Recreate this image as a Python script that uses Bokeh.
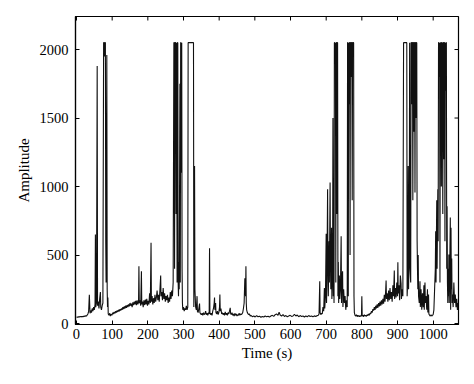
import math
from bokeh.plotting import figure
from bokeh.models import Range1d, FixedTicker
from bokeh.embed import file_html
from bokeh.resources import INLINE

# ---- data ----
t_seg1 = [0, 2, 4, 6, 8, 10, 12, 14, 16, 18, 20, 22, 24, 26, 28, 30, 32, 34, 36, 38, 40, 42, 44, 46, 48, 50, 52, 53, 54, 56, 58, 59, 61, 63, 65, 67, 68, 70, 72, 74, 76, 77, 78, 79, 80, 81, 82, 83, 85, 86, 87, 88, 89, 91, 93, 95, 97, 99]
a_seg1 = [45, 48, 46, 50, 47, 52, 49, 51, 48, 53, 50, 55, 52, 58, 54, 62, 70, 88, 210, 75, 95, 80, 110, 90, 120, 100, 140, 650, 120, 150, 1880, 130, 160, 110, 180, 230, 120, 100, 130, 150, 2050, 2050, 1950, 2050, 2050, 2050, 600, 300, 1960, 250, 120, 190, 70, 60, 75, 55, 70, 60]

t_seg2 = [100, 102, 104, 106, 108, 110, 112, 114, 116, 118, 120, 122, 124, 126, 128, 130, 132, 134, 136, 138, 140, 142, 144, 146, 148, 150, 152, 154, 156, 158, 160, 162, 164, 166, 168, 170, 172, 174, 175, 176, 178, 180, 182, 183, 185, 187, 189, 191, 193, 195, 197, 199, 201, 203, 205, 207, 209, 210, 212, 214, 216, 218, 220, 222, 224, 226, 228, 230, 232, 234, 236, 237, 239, 241, 243, 245, 247, 249, 251, 253, 255, 257, 259, 261, 263, 265, 267, 269, 271]
a_seg2 = [65, 80, 70, 85, 75, 90, 80, 95, 85, 100, 90, 105, 95, 110, 100, 120, 105, 125, 110, 130, 115, 135, 120, 140, 125, 150, 130, 145, 120, 155, 135, 160, 140, 165, 135, 170, 140, 160, 418, 150, 170, 130, 382, 140, 160, 120, 170, 135, 175, 140, 180, 130, 165, 140, 220, 150, 590, 160, 200, 140, 185, 150, 210, 160, 190, 240, 170, 210, 160, 250, 350, 200, 230, 170, 260, 180, 220, 160, 200, 170, 210, 150, 190, 160, 230, 180, 240, 200, 300]

t_seg3 = [273, 274, 275, 276, 277, 278, 279, 280, 281, 282, 283, 284, 285, 286, 287, 288, 290, 291, 292, 293, 294, 295, 296, 297, 298, 300, 302, 304, 306, 308, 310, 312, 313, 320, 328, 329, 331, 332, 334, 336, 338, 339, 341, 343, 345, 346, 348]
a_seg3 = [2050, 2050, 400, 2050, 2050, 2050, 800, 2050, 1650, 300, 2050, 2050, 300, 200, 450, 250, 1750, 300, 2050, 2050, 1100, 2050, 400, 150, 100, 120, 90, 110, 100, 130, 100, 120, 2050, 2050, 2050, 120, 1150, 250, 120, 100, 200, 90, 80, 110, 146, 80, 70]

t_seg4 = [350, 352, 354, 356, 358, 360, 362, 364, 366, 368, 370, 372, 373, 374, 376, 378, 380, 382, 384, 386, 387, 388, 390, 391, 393, 395, 397, 399, 401, 402, 403, 405, 407, 409, 411, 413, 415, 417, 419, 421, 423, 425, 427, 429, 431, 432, 434, 436, 438, 440, 442, 444, 446, 448, 450, 452, 454, 456, 458, 460, 462, 464, 466, 468, 470, 472, 474, 475, 476, 477, 479, 481, 483, 485, 487]
a_seg4 = [65, 75, 60, 80, 65, 70, 90, 65, 75, 60, 80, 70, 550, 80, 65, 75, 60, 90, 110, 150, 190, 100, 150, 80, 70, 90, 65, 80, 120, 212, 90, 110, 70, 80, 65, 75, 60, 85, 65, 75, 60, 80, 70, 90, 115, 75, 65, 80, 60, 70, 55, 75, 60, 70, 55, 65, 60, 75, 60, 70, 65, 70, 80, 110, 150, 330, 200, 418, 150, 100, 80, 70, 65, 70, 55]

t_seg5 = [489, 493, 497, 501, 505, 509, 513, 517, 521, 525, 529, 533, 537, 541, 545, 549, 553, 557, 561, 565, 568, 571, 575, 579, 583, 587, 591, 595, 599, 603, 607, 611, 615, 619, 623, 627, 631, 635, 639, 643, 647, 651, 655, 659, 663, 667, 671, 675, 678, 680, 682, 683, 685, 687, 689, 691, 693, 695, 696, 698]
a_seg5 = [60, 50, 55, 48, 58, 50, 54, 46, 52, 48, 55, 50, 53, 47, 55, 60, 52, 65, 70, 60, 83, 62, 55, 65, 52, 58, 50, 55, 60, 52, 55, 68, 55, 62, 50, 58, 52, 55, 48, 55, 50, 58, 52, 55, 50, 56, 52, 58, 60, 70, 309, 80, 65, 75, 70, 120, 90, 260, 110, 200]

t_seg6 = [700, 701, 702, 704, 705, 706, 708, 709, 711, 712, 713, 715, 716, 718, 719, 720, 721, 722, 723, 724, 725, 726, 727, 728, 729, 730, 731, 732, 733, 734, 735, 737, 738, 740, 742, 743, 744, 746, 747, 749, 751, 753, 755, 757, 759, 760, 761, 762, 763, 764, 765, 766, 767, 768, 769, 770, 771, 772, 773, 774, 775, 776, 777, 778, 779]
a_seg6 = [655, 150, 300, 980, 400, 200, 600, 300, 1030, 450, 250, 700, 180, 400, 1500, 200, 500, 150, 2050, 2050, 1900, 2050, 300, 2050, 2050, 800, 2050, 2050, 200, 450, 150, 350, 180, 250, 637, 150, 300, 382, 120, 250, 150, 200, 100, 170, 120, 2050, 2050, 200, 2050, 1600, 2050, 2050, 500, 2050, 2050, 1800, 2050, 2050, 900, 2050, 2050, 2050, 2050, 200, 80]

t_seg7 = [781, 783, 785, 787, 789, 791, 793, 795, 797, 799, 800, 801, 803, 805, 807, 809, 811, 813, 815, 817, 819, 821, 823, 825, 827, 829, 831, 833, 835, 837, 839, 841, 843, 845, 847, 849, 851, 853, 855, 857, 859, 861, 863, 865, 867, 868, 869, 871, 873, 875, 877, 879, 881, 883, 885, 887, 889, 891, 892, 894, 896, 898, 900, 901, 902, 904, 906, 908, 910, 911, 913, 915]
a_seg7 = [60, 55, 65, 50, 60, 55, 50, 58, 52, 60, 200, 55, 60, 50, 65, 55, 60, 52, 65, 58, 70, 60, 75, 70, 90, 80, 105, 95, 120, 100, 130, 110, 140, 115, 150, 125, 160, 130, 170, 140, 180, 145, 210, 160, 250, 314, 180, 220, 160, 240, 170, 260, 180, 230, 160, 280, 200, 387, 180, 260, 190, 300, 200, 448, 220, 280, 170, 350, 292, 180, 250, 200]

t_seg8 = [917, 922, 926, 927, 929, 930, 931, 933, 934, 935, 937, 938, 939, 940, 941, 942, 943, 944, 945, 946, 947, 948, 949, 950, 951, 952, 953, 954, 955, 956, 957, 958, 959, 961, 963, 964, 966, 968, 970, 972, 974, 975, 977, 978, 980, 982, 984, 985, 987, 988, 990, 992, 994, 996, 998, 1000]
a_seg8 = [2050, 2050, 2050, 200, 350, 1150, 250, 600, 2050, 400, 300, 2050, 2050, 1600, 2050, 2050, 900, 2050, 2050, 1400, 2050, 2050, 956, 2050, 2050, 1500, 2050, 2050, 600, 400, 250, 500, 200, 150, 309, 120, 250, 100, 220, 120, 280, 100, 300, 150, 200, 100, 250, 80, 212, 70, 60, 55, 65, 55, 60, 66]

t_seg9 = [1002, 1004, 1006, 1007, 1008, 1010, 1011, 1013, 1014, 1015, 1016, 1017, 1018, 1019, 1020, 1021, 1022, 1023, 1024, 1025, 1026, 1027, 1028, 1029, 1030, 1031, 1032, 1033, 1034, 1035, 1036, 1037, 1038, 1039, 1040, 1041, 1042, 1043, 1044, 1045, 1046, 1048, 1049, 1050, 1051, 1052, 1053, 1054, 1056, 1058, 1060, 1062, 1064, 1066, 1068, 1070]
a_seg9 = [100, 250, 400, 674, 300, 900, 400, 980, 600, 2050, 2050, 1800, 2050, 300, 1800, 2050, 2050, 1000, 2050, 2050, 1550, 800, 2050, 2050, 1200, 2050, 2050, 600, 2050, 1700, 2050, 2050, 400, 856, 300, 150, 400, 200, 504, 150, 300, 774, 100, 700, 250, 474, 150, 212, 120, 300, 150, 212, 120, 180, 100, 150]

x_ticks = [0, 100, 200, 300, 400, 500, 600, 700, 800, 900, 1000]
y_ticks = [0, 500, 1000, 1500, 2000]

t_all = t_seg1 + t_seg2 + t_seg3 + t_seg4 + t_seg5 + t_seg6 + t_seg7 + t_seg8 + t_seg9
a_all = a_seg1 + a_seg2 + a_seg3 + a_seg4 + a_seg5 + a_seg6 + a_seg7 + a_seg8 + a_seg9

FONT = "Liberation Serif"
X0, X1 = -2.8, 1071
Y0, Y1 = -7, 2241

p = figure(width=466, height=376, output_backend="svg", toolbar_location=None,
           x_range=Range1d(X0, X1), y_range=Range1d(Y0, Y1),
           min_border_left=75, min_border_right=8, min_border_top=16, min_border_bottom=52,
           x_axis_label="Time (s)", y_axis_label="Amplitude")

p.line(t_all, a_all, line_color="#111111", line_width=1.1)

p.grid.visible = False
p.outline_line_color = "black"
p.outline_line_width = 1.2
p.background_fill_color = "white"
p.border_fill_color = "white"

for ax, ticks in ((p.xaxis[0], x_ticks), (p.yaxis[0], y_ticks)):
    ax.ticker = FixedTicker(ticks=ticks)
    ax.major_tick_in = 4
    ax.major_tick_out = 0
    ax.minor_tick_line_color = None
    ax.axis_line_color = "black"
    ax.axis_line_width = 1.2
    ax.major_tick_line_color = "black"
    ax.major_tick_line_width = 1
    ax.major_label_text_font = FONT
    ax.major_label_text_font_size = "14.5px"
    ax.major_label_text_color = "black"
    ax.axis_label_text_font = FONT
    ax.axis_label_text_font_size = "15px"
    ax.axis_label_text_font_style = "normal"
    ax.axis_label_text_color = "black"

p.xaxis[0].major_label_standoff = 4
p.xaxis[0].axis_label_standoff = 3
p.yaxis[0].major_label_standoff = 7
p.yaxis[0].axis_label_standoff = 5

# mirrored inward ticks on the top and right edges of the frame
p.ray(x=x_ticks, y=[Y1] * len(x_ticks), length=4, length_units="screen",
      angle=-math.pi / 2, line_color="black", line_width=1)
p.ray(x=[X1] * len(y_ticks), y=y_ticks, length=4, length_units="screen",
      angle=math.pi, line_color="black", line_width=1)

open("out.html", "w").write(file_html(p, INLINE))
